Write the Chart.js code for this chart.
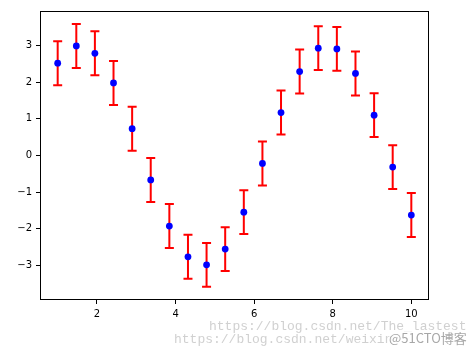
<!DOCTYPE html>
<html><head><meta charset="utf-8">
<script src="https://cdn.jsdelivr.net/npm/chart.js@4/dist/chart.umd.min.js"></script>
<style>
html,body{margin:0;padding:0;background:#fff;}
#wrap{position:relative;width:474px;height:355px;}
canvas{position:absolute;left:0;top:0;}
.wm{position:absolute;font-family:"Liberation Mono","DejaVu Sans Mono",monospace;color:rgba(170,170,170,0.55);font-size:13px;white-space:nowrap;line-height:1;}
</style>
</head><body>
<div id="wrap"><canvas id="c" width="474" height="355"></canvas>
<div class="wm" style="left:209px;top:320px;">https://blog.csdn.net/The_lastest</div>
<div class="wm" style="left:174px;top:333px;">https://blog.csdn.net/weixin</div>
<div class="wm" style="left:389px;top:331px;font-family:'Noto Sans CJK SC',sans-serif;font-size:13px;color:rgba(130,130,130,0.7);background:rgba(255,255,255,0.7);">@51CTO博客</div>
</div>
<script>
const xValues = [1.0, 1.474, 1.947, 2.421, 2.895, 3.368, 3.842, 4.316, 4.789, 5.263, 5.737, 6.211, 6.684, 7.158, 7.632, 8.105, 8.579, 9.053, 9.526, 10.0];
const yValues = [2.52, 2.99, 2.79, 1.98, 0.73, -0.67, -1.93, -2.77, -2.99, -2.56, -1.55, -0.22, 1.17, 2.29, 2.93, 2.91, 2.24, 1.10, -0.32, -1.63];
const yErrors = [0.6, 0.6, 0.6, 0.6, 0.6, 0.6, 0.6, 0.6, 0.6, 0.6, 0.6, 0.6, 0.6, 0.6, 0.6, 0.6, 0.6, 0.6, 0.6, 0.6];
const xTicks = [2, 4, 6, 8, 10];
const yTicks = [-3, -2, -1, 0, 1, 2, 3];

const fmt = v => (v < 0 ? '\u2212' + Math.abs(v) : String(v));

const errorBars = {
  id: 'errorBars',
  beforeDatasetsDraw(chart) {
    const {ctx, scales: {x, y}} = chart;
    ctx.save();
    ctx.strokeStyle = '#ff0000';
    ctx.lineWidth = 2;
    xValues.forEach((xv, i) => {
      const px = x.getPixelForValue(xv);
      const top = y.getPixelForValue(yValues[i] + yErrors[i]);
      const bot = y.getPixelForValue(yValues[i] - yErrors[i]);
      ctx.beginPath();
      ctx.moveTo(px, top); ctx.lineTo(px, bot);
      ctx.moveTo(px - 4.5, top); ctx.lineTo(px + 4.5, top);
      ctx.moveTo(px - 4.5, bot); ctx.lineTo(px + 4.5, bot);
      ctx.stroke();
    });
    ctx.restore();
  }
};

const frame = {
  id: 'frame',
  afterDraw(chart) {
    const {ctx, chartArea: a} = chart;
    ctx.save();
    ctx.strokeStyle = '#000';
    ctx.lineWidth = 1;
    ctx.strokeRect(a.left + 0.5, a.top + 0.5, a.right - a.left - 1, a.bottom - a.top - 1);
    ctx.restore();
  }
};

new Chart(document.getElementById('c'), {
  type: 'scatter',
  data: {
    datasets: [{
      data: xValues.map((v, i) => ({x: v, y: yValues[i]})),
      backgroundColor: '#0000ff',
      borderColor: '#0000ff',
      pointRadius: 3.4,
      pointBorderWidth: 0
    }]
  },
  options: {
    responsive: false,
    animation: false,
    devicePixelRatio: 1,
    layout: {padding: {top: 11, right: 45, left: 0, bottom: 0}},
    plugins: {legend: {display: false}, tooltip: {enabled: false}},
    scales: {
      x: {
        type: 'linear', min: 0.55, max: 10.45,
        afterBuildTicks: s => { s.ticks = xTicks.map(v => ({value: v})); },
        afterFit: s => { s.height = 55; },
        border: {display: false},
        grid: {drawOnChartArea: false, drawTicks: true, tickLength: 4, color: '#000', tickWidth: 1},
        ticks: {color: '#000', padding: 4, font: {family: 'DejaVu Sans', size: 10}, maxRotation: 0, callback: v => fmt(v)}
      },
      y: {
        type: 'linear', min: -3.95, max: 3.945,
        afterBuildTicks: s => { s.ticks = yTicks.map(v => ({value: v})); },
        afterFit: s => { s.width = 40; },
        border: {display: false},
        grid: {drawOnChartArea: false, drawTicks: true, tickLength: 4, color: '#000', tickWidth: 1},
        ticks: {color: '#000', padding: 4, font: {family: 'DejaVu Sans', size: 10}, callback: v => fmt(v)}
      }
    }
  },
  plugins: [errorBars, frame]
});
</script>
</body></html>
